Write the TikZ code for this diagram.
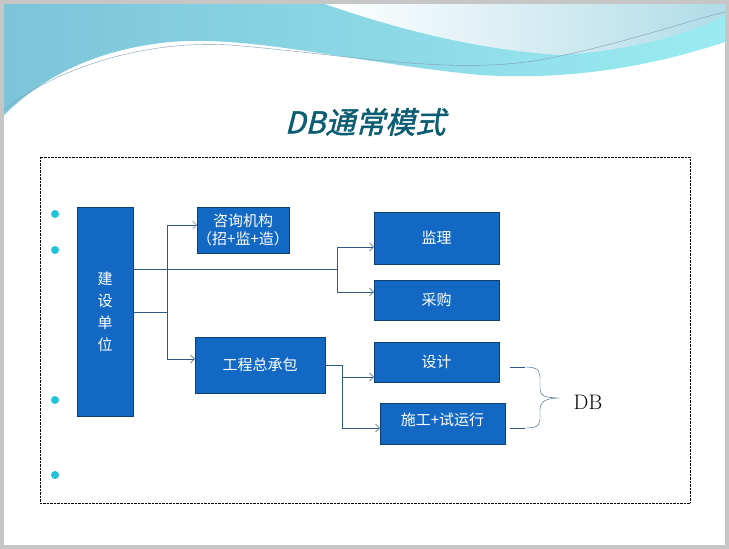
\documentclass[tikz,border=0pt]{standalone}
\usepackage{fontspec}
\newfontfamily\cjk{Noto Sans CJK SC}
\newfontfamily\cjktitle[FakeSlant=0.25,FakeBold=1.5]{Noto Sans CJK SC}
\usetikzlibrary{positioning,arrows.meta}
\definecolor{boxblue}{HTML}{1368C4}
\definecolor{boxedge}{HTML}{0E3E72}
\definecolor{linkblue}{HTML}{2F5A86}
\definecolor{titleteal}{HTML}{0C5D73}
\definecolor{waveA}{HTML}{7CC4D8}
\definecolor{waveB}{HTML}{6FE3EC}
\definecolor{dotcyan}{HTML}{1FC3D6}
\tikzset{
  unit/.style={draw=boxedge, fill=boxblue, text=white, font=\cjk\fontsize{15}{18}\selectfont,
    inner sep=0pt, align=center},
  link/.style={draw=linkblue, thin, -{Straight Barb[length=4pt,width=8pt]}},
  plain/.style={draw=linkblue, thin},
}
\begin{document}
\begin{tikzpicture}[x=1pt, y=-1pt]
  \useasboundingbox (0,0) rectangle (729,549);
  \fill[gray!45] (0,0) rectangle (729,549);
  \fill[white] (4,4) rectangle (725,545);
  % top wave
  \shade[left color=waveA, right color=waveB!70]
    (4,4) -- (725,4) -- (725,42) .. controls (640,70) and (560,80) .. (480,75)
    .. controls (350,62) and (250,35) .. (170,42) .. controls (90,50) and (40,80) .. (4,115) -- cycle;
  \shade[left color=white, right color=waveA!60]
    (325,4) .. controls (400,30) and (480,50) .. (560,55)
    .. controls (640,50) and (700,30) .. (725,15) -- (725,4) -- cycle;
  \draw[linkblue!60, thin] (4,110) .. controls (60,65) and (150,40) .. (230,45)
    .. controls (350,55) and (450,75) .. (540,60) .. controls (620,45) and (690,20) .. (725,12);
  \node (title) at (365,122) {\cjktitle\color{titleteal}\fontsize{30}{34}\selectfont DB通常模式};
  \draw[densely dotted] (40,157) rectangle (690,503);
  \foreach \y in {214,250,400,475} \fill[dotcyan] (55,\y) circle (4);
  % boxes
  \node (owner) [unit, minimum width=56pt, minimum height=209pt] at (105,311.5) {建\\[4pt]设\\[4pt]单\\[4pt]位};
  \node (consult) [unit, minimum width=84pt, minimum height=46pt] at (243,230) {咨询机构\\（招+监+造）};
  \node (super) [unit, minimum width=125pt, minimum height=52pt] at (436.5,238) {监理};
  \node (buy) [unit, minimum width=125pt, minimum height=40pt] at (436.5,300) {采购};
  \node (epc) [unit, minimum width=130pt, minimum height=56pt] at (260,365) {工程总承包};
  \node (design) [unit, minimum width=125pt, minimum height=40pt] at (436.5,362) {设计};
  \node (build) [unit, minimum width=125pt, minimum height=41pt, anchor=north] at (442.5,403) {\raisebox{10pt}{施工+试运行}};
  \coordinate (splitA) at (337,269);
  \coordinate (splitB) at (167,312);
  \coordinate (splitC) at (342,365);
  % connectors
  \draw[plain] (owner.east |- splitA) -- (splitA);
  \draw[link] (splitA) |- (super.west |- 0,247);
  \draw[link] (splitA) |- (buy.west |- 0,292);
  \draw[plain] (owner.east |- splitB) -- (splitB);
  \draw[link] (splitB) |- (consult.west |- 0,225);
  \draw[link] (splitB) |- (epc.west |- 0,359);
  \draw[plain] (epc.east |- splitC) -- (splitC);
  \draw[link] (splitC) |- (design.west |- 0,377);
  \draw[link] (splitC) |- (build.west |- 0,428);
  % DB brace
  \coordinate (bt) at (525,367);
  \coordinate (bb) at (525,428);
  \draw[plain] (510,367) -- (bt);
  \draw[plain] (510,428) -- (bb);
  \draw[plain] (bt) .. controls (540,367) and (540,372) .. (540,380) -- (540,388)
    .. controls (540,396) and (545,398) .. (560,398)
    .. controls (545,398) and (540,402) .. (540,410) -- (540,416)
    .. controls (540,424) and (540,428) .. (bb);
  \node (db) at (588,402) {\fontsize{21}{24}\selectfont DB};
\end{tikzpicture}
\end{document}
